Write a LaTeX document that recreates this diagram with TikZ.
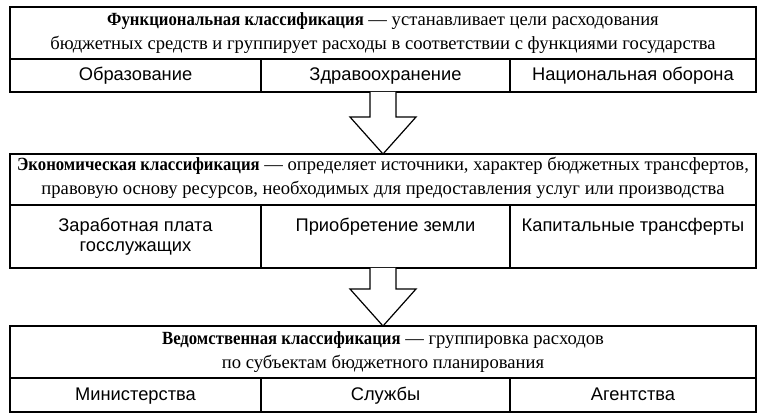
\documentclass[tikz,border=0pt]{standalone}
\usepackage{fontspec}
\setmainfont{Liberation Serif}[BoldFeatures={FakeStretch=0.9}]
\newfontfamily\cellfont{Liberation Sans}
\begin{document}
\begin{tikzpicture}[x=1pt,y=-1pt,line width=1.2pt,
 hdr/.style={font=\fontsize{18.6}{23.5}\selectfont,align=center,inner sep=0},
 cell/.style={font=\cellfont\fontsize{18.3}{20}\selectfont,align=center,inner sep=0},
 cell1/.style={cell,text height=13pt,text depth=4pt},
 bigarrow/.style={draw,fill=white,line width=1.2pt,line join=miter}]
\useasboundingbox (0,0) rectangle (766,419);
% block 1
\draw (10,7) rectangle (756,92);
\draw (10,59) -- (756,59);
\draw (261,59) -- (261,92) (510,59) -- (510,92);
\node[hdr] (h1) at (383,33) {\textbf{Функциональная классификация} — устанавливает цели расходования\\бюджетных средств и группирует расходы в соответствии с функциями государства};
\node[cell1] (c11) at (135.5,76) {Образование};
\node[cell1] (c12) at (385.5,76) {Здравоохранение};
\node[cell1] (c13) at (633,76) {Национальная оборона};
% block 2
\draw (10,154) rectangle (756,268);
\draw (10,205) -- (756,205);
\draw (261,205) -- (261,268) (510,205) -- (510,268);
\node[hdr] (h2) at (383,178) {\textbf{Экономическая классификация} — определяет источники, характер бюджетных трансфертов,\\правовую основу ресурсов, необходимых для предоставления услуг или производства};
\node[cell] (c21) at (135.5,237) {Заработная плата\\госслужащих};
\node[cell1] (c22) at (385.5,227) {Приобретение земли};
\node[cell1] (c23) at (633,227) {Капитальные трансферты};
% block 3
\draw (10,326) rectangle (756,412);
\draw (10,378) -- (756,378);
\draw (261,378) -- (261,412) (510,378) -- (510,412);
\node[hdr] (h3) at (383,352) {\textbf{Ведомственная классификация} — группировка расходов\\по субъектам бюджетного планирования};
\node[cell1] (c31) at (135.5,396) {Министерства};
\node[cell1] (c32) at (385.5,396) {Службы};
\node[cell1] (c33) at (633,396) {Агентства};
% arrows
\draw[bigarrow] (370,92) -- (370,117) -- (350,117) -- (383,154) -- (416,117) -- (396,117) -- (396,92);
\draw[bigarrow] (370,268) -- (370,289) -- (350,289) -- (383,326) -- (416,289) -- (396,289) -- (396,268);
\end{tikzpicture}
\end{document}
